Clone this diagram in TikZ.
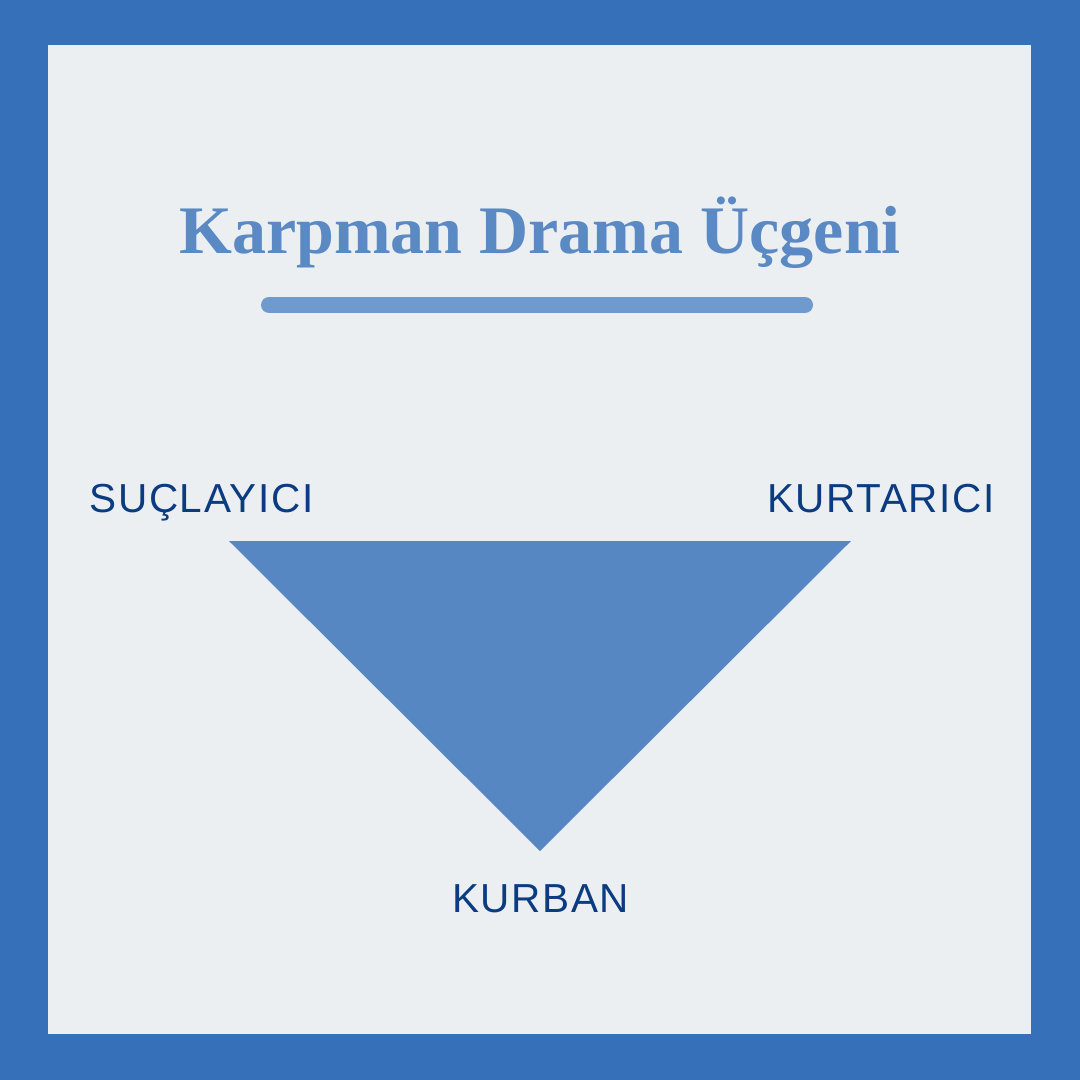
\documentclass[tikz,border=0pt]{standalone}
\usepackage{fontspec}
\setmainfont{Liberation Serif}
\newfontfamily\labelfont{Liberation Sans}[LetterSpace=4]

\definecolor{marco}{HTML}{3670B8}
\definecolor{fondo}{HTML}{EBEFF2}
\definecolor{titulo}{HTML}{5A89C4}
\definecolor{barra}{HTML}{6F9ACD}
\definecolor{triangulo}{HTML}{5787C2}
\definecolor{rol}{HTML}{0B3B80}

\tikzset{
	rolnode/.style={anchor=base, inner sep=0pt, text=rol, font=\labelfont\fontsize{40.5}{48}\selectfont},
}

\begin{document}
\begin{tikzpicture}[x=1pt, y=-1pt]
		\fill[marco] (0, 0) rectangle (1080, 1080);
		\fill[fondo] (48, 45) rectangle (1031, 1034);
		
		% Titulo
		\node[anchor=base, inner sep=0pt, text=titulo, font=\bfseries\fontsize{68}{80}\selectfont] (titulo) at (540, 253) {Karpman Drama Üçgeni};
		\coordinate (barraA) at (269, 305);
		\coordinate (barraB) at (805, 305);
		\draw[barra, line width=16pt, line cap=round] (barraA) -- (barraB);
		
		% Triangulo
		\coordinate (verticeS) at (229, 541);
		\coordinate (verticeK) at (851, 541);
		\coordinate (verticeB) at (540, 851);
		\fill[triangulo] (verticeS) -- (verticeK) -- (verticeB) -- cycle;
		
		% Roles
		\node[rolnode] (suclayici) at (201.5, 512) {SUÇLAYICI};
		\node[rolnode] (kurtarici) at (881, 512) {KURTARICI};
		\node[rolnode] (kurban) at (540.5, 912) {KURBAN};
	\end{tikzpicture}
\end{document}
